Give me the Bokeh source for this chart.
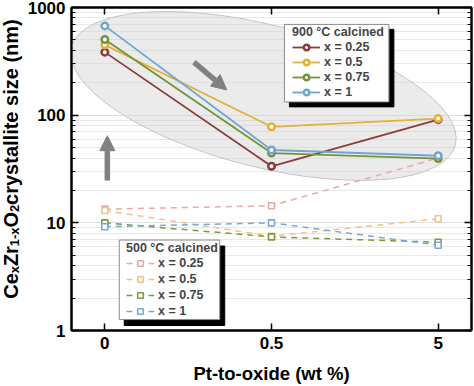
import math
from bokeh.plotting import figure
from bokeh.layouts import row
from bokeh.models import (Range1d, FixedTicker, LinearAxis, LogAxis, Legend, LegendItem,
                          BoxAnnotation, Arrow, NormalHead, ColumnDataSource)
from bokeh.core.properties import value
from bokeh.embed import file_html
from bokeh.resources import INLINE

# ---- data ----
categories = ["0", "0.5", "5"]
x_pos = [0, 1, 2]
y_ticks = [1, 10, 100, 1000]
y_tick_labels = ["1", "10", "100", "1000"]
compositions = ["x = 0.25", "x = 0.5", "x = 0.75", "x = 1"]
size_900_x025 = [385, 33.5, 91]
size_900_x05 = [450, 78, 93]
size_900_x075 = [505, 44.5, 39.5]
size_900_x1 = [675, 47.5, 42]
size_500_x025 = [13.4, 14.4, 40]
size_500_x05 = [13.0, 7.5, 10.9]
size_500_x075 = [10.0, 7.4, 6.6]
size_500_x1 = [9.2, 10.0, 6.2]
colors_900 = ["#8c3b3b", "#e2b13c", "#76923a", "#6fa6cf"]
colors_500 = ["#e8a9a9", "#f3c47e", "#7c9a3a", "#78aad6"]

FONT = "Liberation Sans"
W, H = 474, 386
TW = 24                      # width of the strip holding the y-axis title
FL, FR, FT, FB = 69, 471, 7, 332   # frame edges in window pixels
XMIN, XMAX = -0.2, 2.2
YMIN, YMAX = 1, 1000

def px2x(px):
    return XMIN + (px - FL) / (FR - FL) * (XMAX - XMIN)

def px2y(py):
    lmin, lmax = math.log10(YMIN), math.log10(YMAX)
    return 10 ** (lmax - (py - FT) / (FB - FT) * (lmax - lmin))

p = figure(width=W - TW, height=H, x_range=Range1d(XMIN, XMAX), y_range=Range1d(YMIN, YMAX),
           y_axis_type="log", toolbar_location=None, output_backend="svg",
           min_border_left=FL - TW, min_border_right=W - FR, min_border_top=FT,
           min_border_bottom=H - FB)
p.background_fill_color = "white"
p.border_fill_color = "white"
p.outline_line_color = "black"
p.outline_line_width = 2

minor_y = [m * d for d in [1, 10, 100] for m in range(2, 10)]

def y_ticker():
    return FixedTicker(ticks=y_ticks, minor_ticks=minor_y)

# grid
p.xgrid.grid_line_color = None
p.ygrid.ticker = y_ticker()
p.ygrid.grid_line_color = "#e2e2e2"
p.ygrid.minor_grid_line_color = "#e8e8e8"

# axes
def style_axis(ax):
    ax.axis_line_color = "black"
    ax.axis_line_width = 2
    ax.major_tick_line_color = "black"
    ax.major_tick_line_width = 1.5
    ax.major_tick_in = 7
    ax.major_tick_out = 0
    ax.minor_tick_line_color = "black"
    ax.minor_tick_line_width = 1
    ax.minor_tick_in = 4
    ax.minor_tick_out = 0
    ax.major_label_text_font = FONT
    ax.major_label_text_font_style = "bold"
    ax.major_label_text_color = "black"
    ax.major_label_text_font_size = "17px"

xa = p.xaxis[0]
xa.ticker = FixedTicker(ticks=x_pos)
xa.major_label_overrides = {x: c for x, c in zip(x_pos, categories)}
style_axis(xa)
xa.minor_tick_line_color = None
xa.major_label_standoff = 6
xa.axis_label = "Pt-to-oxide (wt %)"
xa.axis_label_text_font = FONT
xa.axis_label_text_font_style = "bold"
xa.axis_label_text_font_size = "18.5px"
xa.axis_label_text_color = "black"
xa.axis_label_standoff = 11

ya = p.yaxis[0]
ya.ticker = y_ticker()
ya.major_label_overrides = {t: s for t, s in zip(y_ticks, y_tick_labels)}
style_axis(ya)
ya.major_label_standoff = 6

top = LinearAxis(ticker=FixedTicker(ticks=x_pos))
style_axis(top)
top.minor_tick_line_color = None
top.major_label_overrides = {x: "" for x in x_pos}
top.major_label_standoff = 0
p.add_layout(top, "above")
right = LogAxis(ticker=y_ticker())
style_axis(right)
right.major_label_overrides = {t: "" for t in y_ticks}
right.major_label_standoff = 0
p.add_layout(right, "right")

# ellipse highlighting 900 C series
p.ellipse(x=[px2x(262)], y=[px2y(96)], width=[396], height=[142], angle=[-0.25],
          width_units="screen", height_units="screen",
          fill_color="#cfcfcf", fill_alpha=0.42, line_color="#c4c4c4", line_width=1)

# 500 C series (dashed, squares)
s500 = [size_500_x025, size_500_x05, size_500_x075, size_500_x1]
items500 = []
for name, vals, col in zip(compositions, s500, colors_500):
    lr = p.line(x_pos, vals, line_color=col, line_width=1.5, line_dash="6 5")
    sr = p.scatter(x_pos, vals, marker="square", size=6, line_color=col, line_width=1.6,
                   fill_color="white")
    items500.append(LegendItem(label=name, renderers=[lr, sr]))

# 900 C series (solid, circles)
s900 = [size_900_x025, size_900_x05, size_900_x075, size_900_x1]
items900 = []
for name, vals, col in zip(compositions, s900, colors_900):
    lr = p.line(x_pos, vals, line_color=col, line_width=1.8)
    sr = p.scatter(x_pos, vals, marker="circle", size=6.5, line_color=col, line_width=2.5,
                   fill_color="white")
    items900.append(LegendItem(label=name, renderers=[lr, sr]))

# arrows
for (x0, y0, x1, y1) in [(192, 62, 225, 90), (105, 181, 105, 136)]:
    p.add_layout(Arrow(end=NormalHead(size=15, fill_color="#808080", line_color="#808080", line_width=1),
                       x_start=px2x(x0), y_start=px2y(y0), x_end=px2x(x1), y_end=px2y(y1),
                       line_color="#808080", line_width=5.5))

# legend boxes with shadows
def legend_box(l, t, r, b, dx, dy):
    p.add_layout(BoxAnnotation(left=px2x(l + dx), right=px2x(r + dx), top=px2y(t + dy), bottom=px2y(b + dy),
                               fill_color="black", fill_alpha=1, line_color="black", line_alpha=1))
    p.add_layout(BoxAnnotation(left=px2x(l), right=px2x(r), top=px2y(t), bottom=px2y(b),
                               fill_color="white", fill_alpha=1, line_color="#8a8a8a", line_width=1, line_alpha=1))

legend_box(283, 24, 388, 102, 5, 5)
legend_box(117, 241, 218, 321, 5, 6)

def make_legend(title, items, loc, spacing):
    lg = Legend(items=items, title=title, location=loc, margin=0, padding=0,
                background_fill_alpha=0, border_line_color=None,
                title_text_font=FONT, title_text_font_style="bold", title_text_font_size="12.5px",
                title_standoff=1,
                label_text_font=FONT, label_text_font_style="bold", label_text_font_size="12.5px",
                glyph_width=28, glyph_height=14, label_height=14, label_standoff=4, spacing=spacing)
    p.add_layout(lg)

make_legend("900 \u00b0C calcined", items900, (290 - FL, FB - 101), 1)
make_legend("500 \u00b0C calcined", items500, (124 - FL, FB - 320), 2)

# ---- y-axis title strip, with real sub-scripted text ----
# its frame is kept at the same vertical extent as the main frame; data y = H - window y
t = figure(width=TW, height=H, x_range=Range1d(0, TW), y_range=Range1d(H - FB, H - FT),
           toolbar_location=None, output_backend="svg",
           min_border_left=0, min_border_right=0, min_border_top=FT, min_border_bottom=H - FB,
           x_axis_location=None, y_axis_location=None)
t.outline_line_color = None
t.grid.visible = False
t.background_fill_color = "white"
t.border_fill_color = "white"

ADV = {"C": 722, "e": 556, "x": 556, "Z": 611, "r": 389, "1": 556, "-": 333, "O": 778, "2": 556,
       " ": 278, "c": 556, "y": 556, "s": 556, "t": 333, "a": 556, "l": 278, "i": 278, "z": 500,
       "(": 333, "n": 611, "m": 889, ")": 333}
pieces = [("Ce", False), ("x", True), ("Zr", False), ("1-x", True), ("O", False), ("2", True),
          (" crystallite size (nm)", False)]
MAIN, SUB = 20, 13
main = dict(x=[], y=[], text=[])
sub = dict(x=[], y=[], text=[])
cur = 300.0
for txt, is_sub in pieces:
    fs = SUB if is_sub else MAIN
    d = sub if is_sub else main
    d["x"].append(14 if is_sub else 10)
    d["y"].append(H - cur)
    d["text"].append(txt)
    cur -= sum(ADV.get(ch, 556) for ch in txt) / 1000 * fs

for d, fs in [(main, MAIN), (sub, SUB)]:
    t.text(x="x", y="y", text="text", source=ColumnDataSource(d), angle=math.pi / 2,
           text_font=value(FONT), text_font_style="bold", text_font_size=value(f"{fs}px"),
           text_align="left", text_baseline="alphabetic", text_color="black")

layout = row(t, p, spacing=0)
open("out.html", "w").write(file_html(layout, INLINE))
